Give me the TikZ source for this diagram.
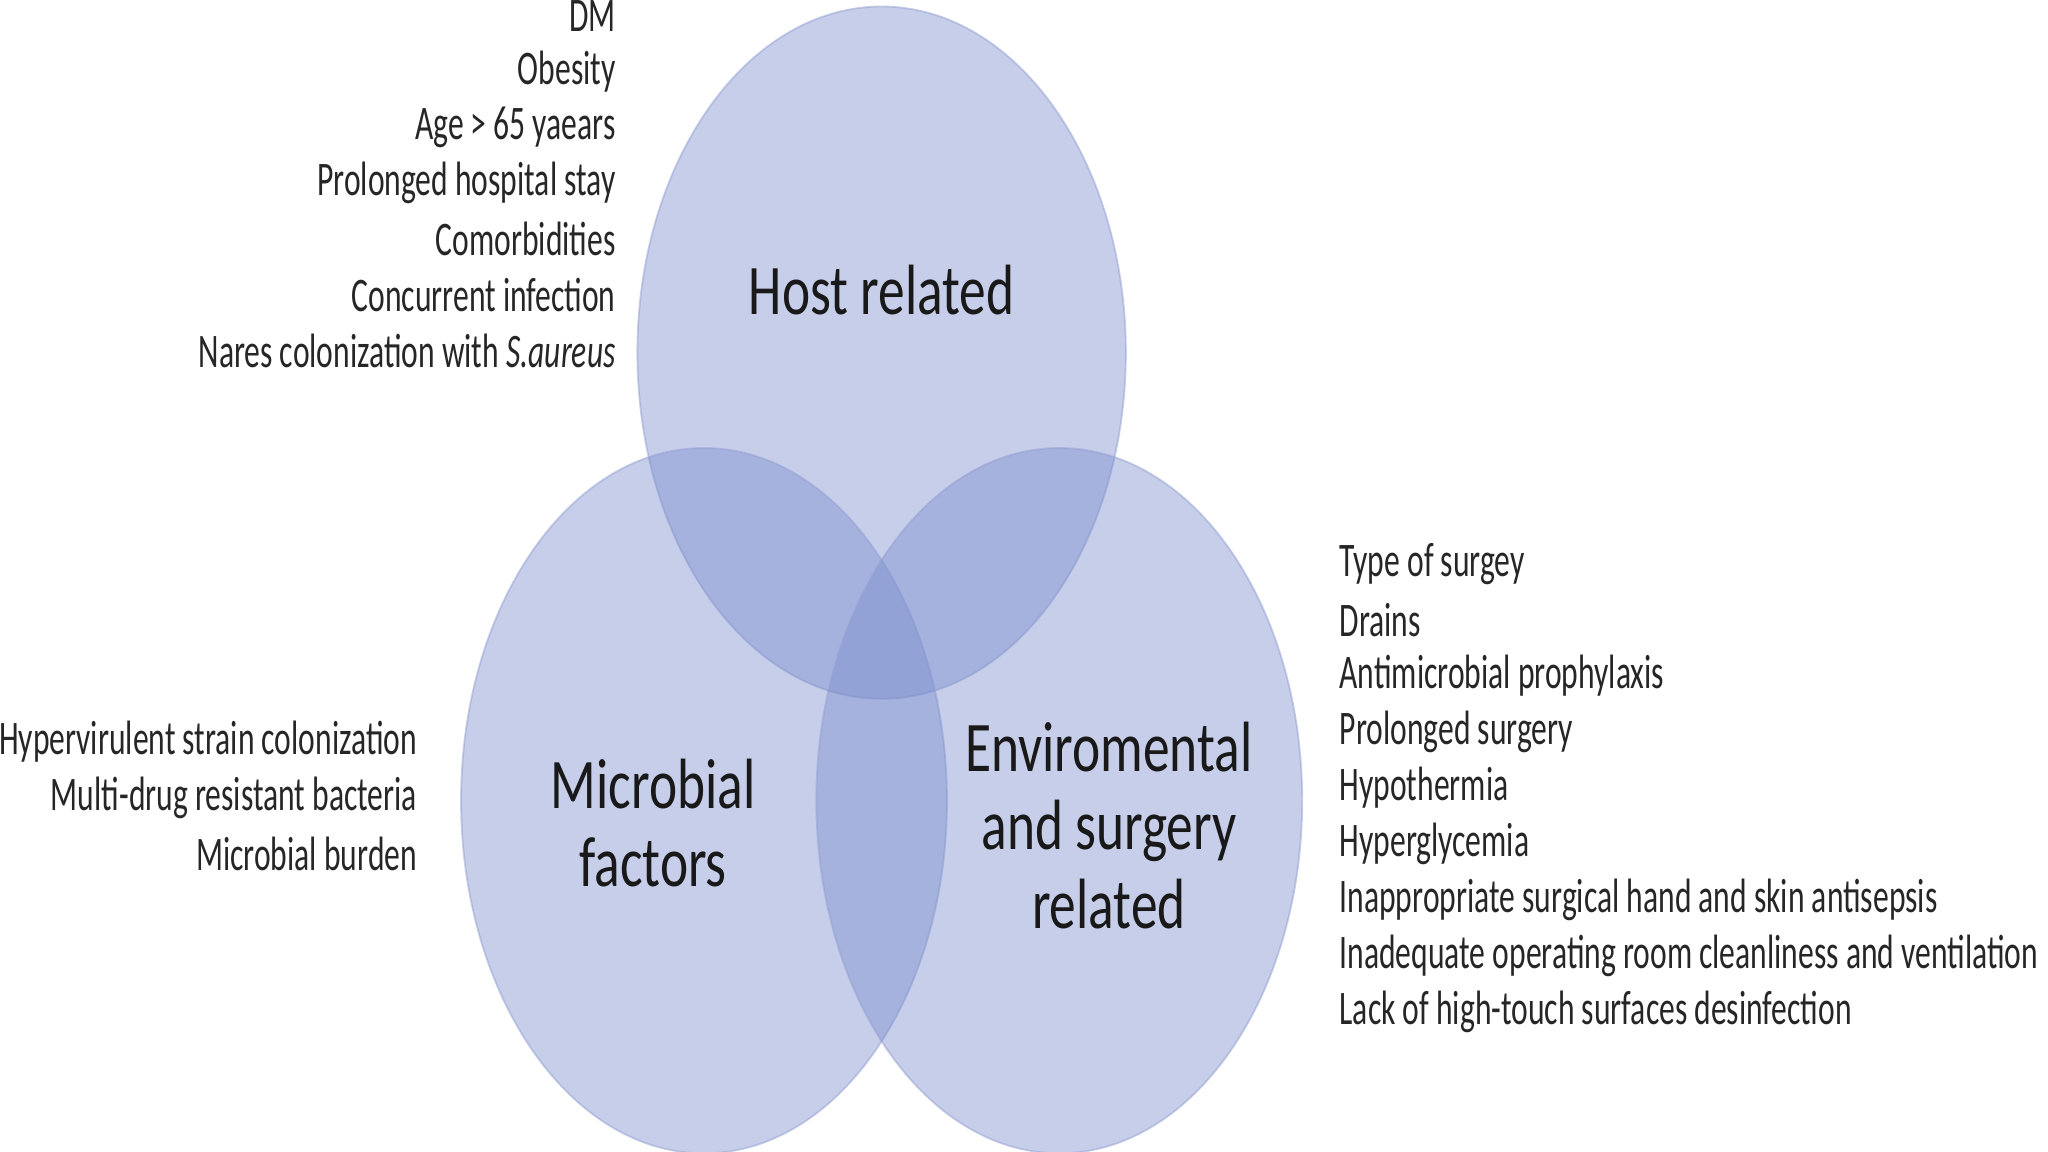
\documentclass[tikz,border=0pt]{standalone}
\usepackage{fontspec}
\setmainfont{Carlito}
\newfontfamily\condlist[FakeStretch=0.655]{Carlito}
\newfontfamily\condtitle[FakeStretch=0.75]{Carlito}
\begin{document}
\begin{tikzpicture}[x=0.01cm,y=-0.01cm,
  venn/.style={fill={rgb,255:red,120;green,140;blue,205},fill opacity=0.42,draw={rgb,255:red,150;green,160;blue,210},draw opacity=0.5},
  lst/.style={font=\condlist\fontsize{10.5}{12.2}\selectfont,text=black!85,inner sep=0pt},
  ttl/.style={font=\condtitle\fontsize{15.5}{17}\selectfont,align=center,text=black!90}]
\useasboundingbox (0,0) rectangle (1568,882);
\fill[white] (0,0) rectangle (1568,882);
\begin{scope}
\clip (0,0) rectangle (1568,882);
\draw[venn] (675,270) ellipse [x radius=187,y radius=265];
\draw[venn] (539,613) ellipse [x radius=186,y radius=270];
\draw[venn] (811,613) ellipse [x radius=186,y radius=270];
\end{scope}
\node[ttl] (host) at (675,222) {Host related};
\node[ttl] (mic) at (500,630) {Microbial\\factors};
\node[ttl] (env) at (849,632) {Enviromental\\and surgery\\related};
\foreach \t [count=\i from 0] in {DM,Obesity,Age > 65 yaears,Prolonged hospital stay,Comorbidities,Concurrent infection,Nares colonization with \textit{S.aureus}}
  \node[lst,anchor=east] (h\i) at (472,12+42.8*\i) {\t};
\foreach \t [count=\i from 0] in {Hypervirulent strain colonization,Multi-drug resistant bacteria,Microbial burden}
  \node[lst,anchor=east] (m\i) at (320,568+43*\i) {\t};
\foreach \t [count=\i from 0] in {Type of surgey,Drains,Antimicrobial prophylaxis,Prolonged surgery,Hypothermia,Hyperglycemia,Inappropriate surgical hand and skin antisepsis,Inadequate operating room cleanliness and ventilation,Lack of high-touch surfaces desinfection}
  \node[lst,anchor=west] (e\i) at (1025,432+42.8*\i) {\t};
\end{tikzpicture}
\end{document}
